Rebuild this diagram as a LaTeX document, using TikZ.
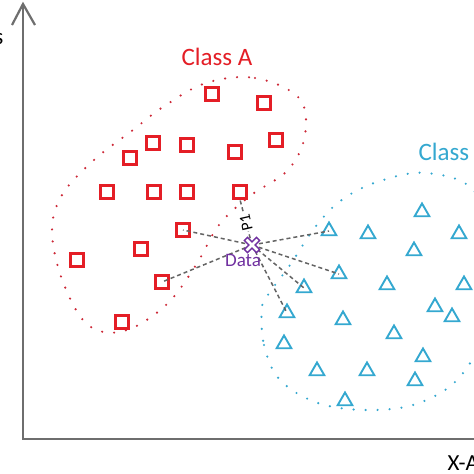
\documentclass[tikz,border=0pt]{standalone}
\usepackage{fontspec}
\setmainfont{Carlito}
\usetikzlibrary{shapes.geometric}
\definecolor{cred}{RGB}{228,30,38}
\definecolor{cdot}{RGB}{205,40,55}
\definecolor{ccyan}{RGB}{52,168,208}
\definecolor{cpurple}{RGB}{112,48,160}
\definecolor{caxis}{RGB}{110,110,110}
\definecolor{cdash}{RGB}{100,100,100}
\tikzset{
  sq/.style={draw=cred,line width=2.5pt,rectangle,minimum size=13pt,inner sep=0pt},
  tri/.style={draw=ccyan,line width=1.9pt,regular polygon,regular polygon sides=3,minimum size=17pt,inner sep=0pt,yshift=-2pt},
  dotline/.style={line width=2.4pt,line cap=round,dash pattern=on 0pt off 12pt},
  link/.style={draw=cdash,line width=1.5pt,dash pattern=on 4pt off 3pt},
  axisline/.style={draw=caxis,line width=2.2pt},
}
\begin{document}
\begin{tikzpicture}[x=1pt,y=-1pt]
\useasboundingbox (0,0) rectangle (474,474);
\clip (0,0) rectangle (474,474);
\fill[white] (0,0) rectangle (474,474);
% clusters
\draw[dotline,cdot] plot[smooth cycle,tension=0.6] coordinates {(206,83) (255,78) (299,98) (305,135) (288,170) (250,196) (219,225) (196,265) (166,305) (124,331) (88,325) (63,282) (52,232) (62,195) (94,160) (133,130) (163,107)};
\draw[dotline,ccyan] plot[smooth cycle,tension=0.6] coordinates {(262,307) (264,345) (280,380) (318,403) (367,410) (416,404) (458,379) (485,330) (495,260) (475,192) (427,173) (380,181) (343,199) (316,226) (290,265) (270,292)};
% axes
\coordinate (o) at (23,439);
\coordinate (ytop) at (23,4);
\coordinate (xend) at (480,439);
\coordinate (al) at (12,25);
\coordinate (ar) at (35,25);
\draw[axisline] (xend) -- (o) -- (ytop);
\draw[axisline,line join=miter] (al) -- (ytop) -- (ar);
\node[anchor=base east,font=\fontsize{23}{23}\selectfont] (ylab) at (7,44) {Y-Axis};
\node[anchor=base west,font=\fontsize{23}{23}\selectfont] (xlab) at (444,470) {X-Axis};
% labels
\node[anchor=base,text=cred,font=\fontsize{25}{25}\selectfont] (la) at (217,65) {Class A};
\node[anchor=base west,text=ccyan,font=\fontsize{25}{25}\selectfont] (lb) at (415,160) {Class B};
% squares
\node[sq] (s1) at (212,94) {};
\node[sq] (s2) at (264,103) {};
\node[sq] (s3) at (276,140) {};
\node[sq] (s4) at (235,152) {};
\node[sq] (s5) at (187,145) {};
\node[sq] (s6) at (153,143) {};
\node[sq] (s7) at (130,158) {};
\node[sq] (s8) at (107,192) {};
\node[sq] (s9) at (154,192) {};
\node[sq] (s10) at (187,192) {};
\node[sq] (s11) at (240,192) {};
\node[sq] (s12) at (183,230) {};
\node[sq] (s13) at (141,249) {};
\node[sq] (s14) at (77,260) {};
\node[sq] (s15) at (162,282) {};
\node[sq] (s16) at (122,322) {};
% triangles
\node[tri] (t1) at (329,229) {};
\node[tri] (t2) at (368,232) {};
\node[tri] (t3) at (422,210) {};
\node[tri] (t4) at (459,232) {};
\node[tri] (t5) at (414,249) {};
\node[tri] (t6) at (339,272) {};
\node[tri] (t7) at (387,283) {};
\node[tri] (t8) at (464,283) {};
\node[tri] (t9) at (304,286) {};
\node[tri] (t10) at (287,311) {};
\node[tri] (t11) at (343,318) {};
\node[tri] (t12) at (435,305) {};
\node[tri] (t13) at (452,315) {};
\node[tri] (t14) at (394,332) {};
\node[tri] (t15) at (284,342) {};
\node[tri] (t16) at (423,355) {};
\node[tri] (t17) at (317,369) {};
\node[tri] (t18) at (367,369) {};
\node[tri] (t19) at (415,379) {};
\node[tri] (t20) at (345,399) {};
% data point
\coordinate (data) at (252,245);
\draw[link] (data) -- (s12.center);
\draw[link] (data) -- (s15.center);
\draw[link] (data) -- (t1.center);
\draw[link] (data) -- (t6.center);
\draw[link] (data) -- (t9.center);
\draw[link] (data) -- (t10.center);
\draw[link] (data) -- (s11.south) node[pos=0.5,fill=white,inner sep=0.8pt,rotate=103,font=\fontsize{16}{16}\selectfont] (p1) {P1};
\begin{scope}[shift={(data)},rotate=45]
\draw[cpurple,fill=white,line width=1.4pt] (2.2,8.5) -- (2.2,2.2) -- (8.5,2.2) -- (8.5,-2.2) -- (2.2,-2.2) -- (2.2,-8.5) -- (-2.2,-8.5) -- (-2.2,-2.2) -- (-8.5,-2.2) -- (-8.5,2.2) -- (-2.2,2.2) -- (-2.2,8.5) -- cycle;
\end{scope}
\node[text=cpurple,font=\fontsize{19}{19}\selectfont] (dl) at (243,260) {Data};
\end{tikzpicture}
\end{document}
